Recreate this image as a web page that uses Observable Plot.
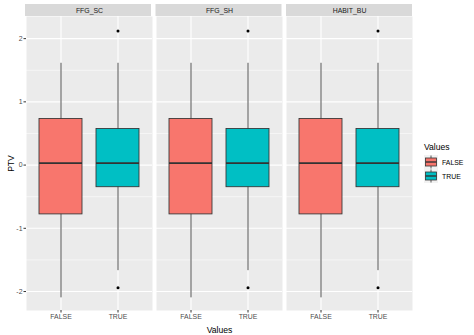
<!DOCTYPE html>
<html>
<head>
<meta charset="utf-8">
<script src="https://cdn.jsdelivr.net/npm/d3@7"></script>
<script src="https://cdn.jsdelivr.net/npm/@observablehq/plot@0.6"></script>
<style>
  body { margin: 0; background: #fff; font-family: "Liberation Sans", Arial, sans-serif; }
  #wrap { position: relative; width: 474px; height: 335px; }
  #legend { position: absolute; left: 424px; top: 142px; font-family: "Liberation Sans", Arial, sans-serif; }
  #legend .title { font-size: 8.6px; color: #000; margin-bottom: 3px; }
  #legend .row { display: flex; align-items: center; height: 14px; }
  #legend .row span { font-size: 6.9px; color: #000; margin-left: 4px; }
</style>
</head>
<body>
<div id="wrap"></div>
<script>
// ---- data ----
const facets = ["FFG_SC", "FFG_SH", "HABIT_BU"];
const groups = ["FALSE", "TRUE"];
const lowerWhisker = [-2.10, -1.67];
const lowerHinge   = [-0.78, -0.35];
const medians      = [0.03, 0.03];
const upperHinge   = [0.73, 0.57];
const upperWhisker = [1.61, 1.61];
const outlierGroup = ["TRUE", "TRUE"];
const outlierValue = [2.12, -1.94];
const colors = ["#F8766D", "#00BFC4"];
const yMajorTicks = [-2, -1, 0, 1, 2];
const yMinorTicks = [-1.5, -0.5, 0.5, 1.5];

// build tables
const boxes = facets.flatMap(f => groups.map((g, i) => ({
  facet: f, group: g, lo: lowerWhisker[i], q1: lowerHinge[i], med: medians[i], q3: upperHinge[i], hi: upperWhisker[i]
})));
const outliers = facets.flatMap(f => outlierGroup.map((g, i) => ({facet: f, group: g, value: outlierValue[i]})));

const plot = Plot.plot({
  width: 474,
  height: 335,
  marginLeft: 25,
  marginRight: 62,
  marginTop: 16,
  marginBottom: 25,
  style: {fontFamily: "'Liberation Sans', Arial, sans-serif", background: "transparent"},
  fx: {domain: facets, paddingInner: 0.0345, paddingOuter: 0, label: null},
  x: {domain: groups, paddingInner: 0.25, paddingOuter: 0.225, label: null},
  y: {domain: [-2.3, 2.35], label: null},
  color: {domain: groups, range: colors},
  marks: [
    Plot.frame({fill: "#EBEBEB", stroke: null}),
    Plot.ruleY(yMinorTicks, {stroke: "white", strokeWidth: 0.55}),
    Plot.ruleY(yMajorTicks, {stroke: "white", strokeWidth: 1.1}),
    Plot.gridX({stroke: "white", strokeOpacity: 1, strokeWidth: 1.1}),
    Plot.ruleX(boxes, {fx: "facet", x: "group", y1: "lo", y2: "hi", stroke: "#333333", strokeWidth: 0.85}),
    Plot.barY(boxes, {fx: "facet", x: "group", y1: "q1", y2: "q3", fill: "group", stroke: "#333333", strokeWidth: 0.85}),
    Plot.tickY(boxes, {fx: "facet", x: "group", y: "med", stroke: "#333333", strokeWidth: 1.8}),
    Plot.dot(outliers, {fx: "facet", x: "group", y: "value", r: 1.5, fill: "black", stroke: null}),
    Plot.axisY({ticks: yMajorTicks, tickFormat: d => String(d), tickSize: 2.5, tickPadding: 1.5, fontSize: 6.9, fill: "#4D4D4D", stroke: "#333333", label: null}),
    Plot.axisY({ticks: [], label: "PTV", labelAnchor: "center", labelOffset: 19, fontSize: 8.6, fill: "black", labelArrow: "none"}),
    Plot.axisX({tickSize: 2.5, tickPadding: 1.5, fontSize: 6.9, fill: "#4D4D4D", stroke: "#333333", label: null}),
    Plot.axisX({ticks: [], label: "Values", labelAnchor: "center", labelOffset: 22, fontSize: 8.6, fill: "black", labelArrow: "none"}),
    Plot.axisFx({anchor: "top", tickSize: 0, tickPadding: 3.5, fontSize: 6.9, fill: "#1A1A1A", label: null})
  ]
});

document.getElementById("wrap").appendChild(plot);

// strip backgrounds from the fx scale
const fxs = plot.scale("fx");
const band = d3.scaleBand(fxs.domain, fxs.range)
  .paddingInner(fxs.paddingInner ?? 0).paddingOuter(fxs.paddingOuter ?? 0).align(fxs.align ?? 0.5);
const svg = d3.select(plot);
const g = svg.insert("g", "g");
g.selectAll("rect").data(facets).join("rect")
  .attr("x", d => band(d)).attr("width", band.bandwidth())
  .attr("y", 4).attr("height", 12).attr("fill", "#D9D9D9");

// legend
const legend = document.createElement("div");
legend.id = "legend";
legend.innerHTML = `<div class="title">Values</div>` + groups.map((g, i) => `
  <div class="row"><svg width="14" height="14">
    <rect x="0" y="0" width="14" height="14" fill="#F2F2F2"></rect>
    <line x1="7" x2="7" y1="0.5" y2="3" stroke="#333" stroke-width="0.8"></line>
    <line x1="7" x2="7" y1="11" y2="13.5" stroke="#333" stroke-width="0.8"></line>
    <rect x="1.5" y="3" width="11" height="8" fill="${colors[i]}" stroke="#333" stroke-width="0.8"></rect>
    <line x1="1.5" x2="12.5" y1="7" y2="7" stroke="#333" stroke-width="1.4"></line>
  </svg><span>${g}</span></div>`).join("");
document.getElementById("wrap").appendChild(legend);
</script>
</body>
</html>
